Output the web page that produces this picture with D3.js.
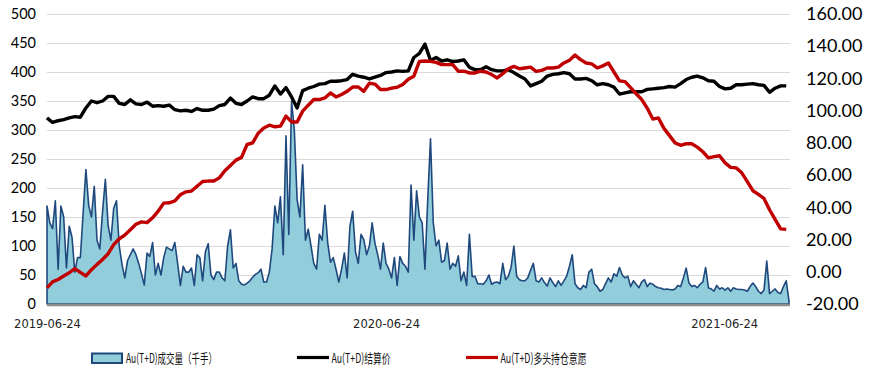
<!DOCTYPE html>
<html>
<head>
<meta charset="utf-8">
<script src="https://cdn.jsdelivr.net/npm/d3@7"></script>
<style>
  body { margin: 0; background: #fff; }
</style>
</head>
<body>
<div id="chart"></div>
<script>
// --- data ---
const startDate = "2019-06-24";
const endOffsetDays = 801;
const tickLabels = ["2019-06-24", "2020-06-24", "2021-06-24"];
const leftTicks = [0, 50, 100, 150, 200, 250, 300, 350, 400, 450, 500];
const rightTicks = [-20, 0, 20, 40, 60, 80, 100, 120, 140, 160];
const seriesNames = ["Au(T+D)成交量（千手）", "Au(T+D)结算价", "Au(T+D)多头持仓意愿"];

// volume, one value every 3 calendar days
const volumeStepDays = 3;
const volume = [
  169,140,130,178,60,169,150,62,134,115,
  55,80,80,157,232,170,150,203,110,95,
  160,215,135,110,165,178,100,68,45,75,
  85,95,85,70,52,33,88,82,106,50,
  70,50,80,98,95,92,106,70,32,65,
  55,55,62,32,85,80,40,90,104,50,
  42,55,55,45,40,100,128,62,70,40,
  34,33,36,40,46,51,54,60,38,38,
  55,95,169,140,185,85,290,120,350,300,
  180,150,240,110,129,100,70,60,120,110,
  170,106,72,80,60,38,60,88,45,134,
  160,90,70,120,111,85,100,140,105,85,
  60,105,70,60,45,80,32,82,70,65,
  55,205,110,195,150,140,60,180,285,140,
  100,110,72,75,105,60,70,65,83,40,
  55,32,120,47,48,35,35,34,40,50,
  34,37,38,35,70,42,48,63,100,48,
  42,40,40,45,58,70,40,38,45,37,
  31,45,37,30,40,32,40,48,65,85,
  35,28,25,32,28,55,60,35,30,22,
  25,35,45,38,52,48,63,50,45,48,
  30,40,34,28,38,42,30,36,34,30,
  28,27,25,26,25,24,26,32,30,45,
  62,36,30,32,28,34,38,63,28,26,
  22,32,26,28,24,28,22,28,26,25,
  25,24,22,30,36,30,22,18,24,74,
  18,22,26,20,18,30,40,5
];

// settlement price (left axis) and long-position ratio (right axis), every 6 days
const lineStepDays = 6;
const settlePrice = [
  321,313,316,318,321,323,322,338,350,347,
  350,358,358,346,344,352,345,344,348,341,
  342,341,343,335,333,334,332,337,334,334,
  336,342,344,355,346,344,350,357,354,354,
  360,376,362,373,357,338,368,372,375,379,
  380,384,384,385,387,396,393,391,388,391,
  394,399,400,402,401,402,425,432,448,420,
  425,419,421,418,419,421,408,404,404,409,
  404,402,402,404,399,393,388,376,380,384,
  393,396,397,399,397,388,388,389,385,378,
  380,378,374,362,364,366,366,366,370,371,
  372,373,375,374,380,387,391,393,390,385,
  384,375,371,372,378,378,379,380,378,377,
  365,372,376,376
];
const longRatio = [
  -10,-6.3,-4.8,-2.6,-0.6,2.0,-0.4,-2.6,1.3,4.6,
  7.6,11.2,16.8,20.5,22.8,26.1,29.5,31.0,30.5,33.5,
  37.6,42.6,42.8,44.0,47.8,49.6,50.1,53.1,56.0,56.3,
  56.3,58.3,62.7,66,69.3,71,79,80,86,89.3,
  91,90,90.4,96.6,93,93,99.7,103.4,106.9,106.9,
  107.9,111,108.5,110,112,114.7,114.7,112,117,116.5,
  113.1,113.1,114,114.5,116.2,119.5,121.4,130.6,130.8,130.6,
  130,128.6,128.6,128.6,124.5,124.5,123.4,123.4,124.5,124,
  122.4,120.3,123,126,127.5,126,126.5,127,124.4,125,
  126.5,126.5,127,129.6,131.3,134.5,131.7,129.6,129,126.5,
  127.8,129.6,124,118.5,118,114.3,110.5,106.9,101.5,94.8,
  95.5,89,84.5,80,78.5,79.5,79.5,77.4,74.5,70.7,
  71.5,72,67.6,64.8,64.5,61.4,56,50.3,48,45.5,
  38.5,32.5,26.6,26.3
];

// --- layout ---
const W = 873, H = 372;
const plotL = 47, plotR = 789, plotT = 14, plotB = 304;

const svg = d3.select("#chart").append("svg")
  .attr("width", W).attr("height", H);

const t0 = d3.utcParse("%Y-%m-%d")(startDate);
const x = d3.scaleUtc()
  .domain([t0, d3.utcDay.offset(t0, endOffsetDays)])
  .range([plotL, plotR]);
const yL = d3.scaleLinear().domain([0, 500]).range([plotB, plotT]);
const yR = d3.scaleLinear().domain([-20, 160]).range([plotB, plotT]);

const volData = volume.map((v, i) => ({ d: d3.utcDay.offset(t0, i * volumeStepDays), v }));
const priceData = settlePrice.map((v, i) => ({ d: d3.utcDay.offset(t0, i * lineStepDays), v }));
const ratioData = longRatio.map((v, i) => ({ d: d3.utcDay.offset(t0, i * lineStepDays), v }));

// gridlines
svg.append("g")
  .selectAll("line")
  .data(leftTicks.filter(v => v > 0))
  .join("line")
    .attr("x1", plotL).attr("x2", plotR + 1)
    .attr("y1", d => Math.round(yL(d)) + 0.5)
    .attr("y2", d => Math.round(yL(d)) + 0.5)
    .attr("stroke", "#d9d9d9")
    .attr("stroke-width", 1);

// volume area
svg.append("path")
  .datum(volData)
  .attr("fill", "#92cddc")
  .attr("stroke", "#1f497d")
  .attr("stroke-width", 1.6)
  .attr("stroke-linejoin", "round")
  .attr("d", d3.area().x(d => x(d.d)).y0(yL(0)).y1(d => yL(d.v)));

// bottom axis line
svg.append("line")
  .attr("x1", plotL).attr("x2", plotR + 1)
  .attr("y1", plotB + 1).attr("y2", plotB + 1)
  .attr("stroke", "#8c8c8c")
  .attr("stroke-width", 2.5);

// settlement price
svg.append("path")
  .datum(priceData)
  .attr("fill", "none")
  .attr("stroke", "#000")
  .attr("stroke-width", 3.4)
  .attr("stroke-linejoin", "round")
  .attr("d", d3.line().x(d => x(d.d)).y(d => yL(d.v)));

// long ratio
svg.append("path")
  .datum(ratioData)
  .attr("fill", "none")
  .attr("stroke", "#c00000")
  .attr("stroke-width", 3.4)
  .attr("stroke-linejoin", "round")
  .attr("d", d3.line().x(d => x(d.d)).y(d => yR(d.v)));

// axes
const gL = svg.append("g")
  .attr("transform", `translate(${plotL},0)`)
  .call(d3.axisLeft(yL).tickValues(leftTicks).tickSize(0).tickPadding(11));
gL.select(".domain").remove();
gL.selectAll("text")
  .attr("font-family", "Lato, 'Noto Sans', sans-serif")
  .attr("font-size", 14.5)
  .attr("fill", "#000");

const gR = svg.append("g")
  .attr("transform", `translate(${plotR + 1},0)`)
  .call(d3.axisRight(yR).tickValues(rightTicks).tickSize(0).tickPadding(16)
    .tickFormat(d => d.toFixed(2)));
gR.select(".domain").remove();
gR.selectAll("text")
  .attr("font-family", "Lato, 'Noto Sans', sans-serif")
  .attr("font-size", 18)
  .attr("fill", "#000");

const gB = svg.append("g")
  .attr("transform", `translate(0,${plotB})`)
  .call(d3.axisBottom(x)
    .tickValues(tickLabels.map(d3.utcParse("%Y-%m-%d")))
    .tickSize(0).tickPadding(16)
    .tickFormat(d3.utcFormat("%Y-%m-%d")));
gB.select(".domain").remove();
gB.selectAll("text")
  .attr("font-family", "'DejaVu Sans', sans-serif")
  .attr("font-size", 11.5)
  .attr("fill", "#222");

// legend
const legend = svg.append("g")
  .attr("font-family", "'Noto Sans CJK SC', sans-serif")
  .attr("font-size", 13)
  .attr("fill", "#111");

legend.append("rect")
  .attr("x", 92).attr("y", 353.5).attr("width", 30).attr("height", 9.5)
  .attr("fill", "#92cddc").attr("stroke", "#1f497d").attr("stroke-width", 2);
legend.append("line")
  .attr("x1", 297).attr("x2", 329).attr("y1", 357.5).attr("y2", 357.5)
  .attr("stroke", "#000").attr("stroke-width", 3.2);
legend.append("line")
  .attr("x1", 466).attr("x2", 498).attr("y1", 357.5).attr("y2", 357.5)
  .attr("stroke", "#c00000").attr("stroke-width", 3.2);

const legendText = [
  { x: 126, w: 91 },
  { x: 331.5, w: 59 },
  { x: 500.5, w: 86 }
];
legend.selectAll("text")
  .data(seriesNames)
  .join("text")
    .attr("x", (d, i) => legendText[i].x)
    .attr("y", 362.5)
    .attr("textLength", (d, i) => legendText[i].w)
    .attr("lengthAdjust", "spacingAndGlyphs")
    .text(d => d);
</script>
</body>
</html>
